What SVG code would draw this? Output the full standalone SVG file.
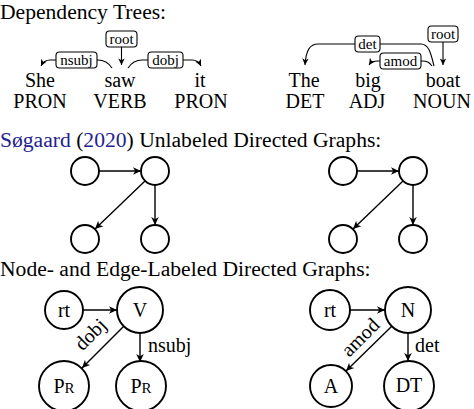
<svg xmlns="http://www.w3.org/2000/svg" width="474" height="409" viewBox="0 0 474 409">
<style>
text { font-family: "Liberation Serif", "Times New Roman", serif; fill: #000; }
.title { font-size: 21.6px; }
.cite { fill: #23238f; }
.w { font-size: 20px; text-anchor: middle; }
.lb { font-size: 15px; text-anchor: middle; }
.box { fill: #fff; stroke: #000; stroke-width: 1.1; }
.dep { fill: none; stroke: #000; stroke-width: 1.1; marker-end: url(#ah); }
.gc { fill: #fff; stroke: #000; stroke-width: 1.9; }
.ge { fill: none; stroke: #000; stroke-width: 1.4; marker-end: url(#ag); }
.nl { font-size: 20px; text-anchor: middle; }
.el { font-size: 20px; }
</style>
<defs>
<marker id="ah" markerUnits="userSpaceOnUse" viewBox="-8 -4 9 8" refX="0" refY="0" markerWidth="9" markerHeight="8" orient="auto">
<path d="M0,0 L-6.5,-3.2 L-4.8,0 L-6.5,3.2 Z" fill="#000"/>
</marker>
<marker id="ag" markerUnits="userSpaceOnUse" viewBox="-9 -5 10 10" refX="0" refY="0" markerWidth="10" markerHeight="10" orient="auto">
<path d="M0,0 L-8,-3.8 L-5.8,0 L-8,3.8 Z" fill="#000"/>
</marker>
</defs>

<text class="title" x="0" y="18.5">Dependency Trees:</text>
<text class="title" x="0" y="147"><tspan class="cite">Søgaard</tspan> (<tspan class="cite">2020</tspan>) Unlabeled Directed Graphs:</text>
<text class="title" x="0" y="276">Node- and Edge-Labeled Directed Graphs:</text>

<g id="connectors">
<!-- left dependency tree -->
<line class="dep" x1="121.5" y1="47" x2="121.5" y2="65"/>
<path class="dep" d="M112,68 C108,62 104,60 98,60 L50,60 C46,60 43,62 41,66"/>
<path class="dep" d="M128,68 C132,62 136,60 142,60 L192,60 C196,60 199,62 201,66"/>
<!-- right dependency tree -->
<line class="dep" x1="443" y1="42" x2="443" y2="65"/>
<path class="dep" d="M434,66 C431,54 429,44 421,44 L318,44 C310,44 306,50 305,65"/>
<path class="dep" d="M432,66 C429,62 427,61 422,61 L378,61 C374,61 371,62 369,65"/>
<!-- unlabeled graph left -->
<line class="ge" x1="99" y1="171" x2="141" y2="171"/>
<line class="ge" x1="155" y1="185" x2="155" y2="225"/>
<line class="ge" x1="145" y1="181" x2="95" y2="229"/>
<!-- unlabeled graph right -->
<line class="ge" x1="357" y1="171" x2="399" y2="171"/>
<line class="ge" x1="413" y1="185" x2="413" y2="225"/>
<line class="ge" x1="403" y1="181" x2="353" y2="229"/>
<!-- labeled graph left -->
<line class="ge" x1="83" y1="310" x2="117" y2="310"/>
<line class="ge" x1="140" y1="333" x2="140" y2="362"/>
<line class="ge" x1="124" y1="326" x2="82" y2="368"/>
<text class="el" x="148" y="352">nsubj</text>
<text class="el" transform="translate(95,339) rotate(-45)" text-anchor="middle">dobj</text>
<!-- labeled graph right -->
<line class="ge" x1="350" y1="310" x2="385" y2="310"/>
<line class="ge" x1="408" y1="333" x2="408" y2="361"/>
<line class="ge" x1="392" y1="326" x2="346" y2="371"/>
<text class="el" x="415" y="352">det</text>
<text class="el" transform="translate(365,342) rotate(-45)" text-anchor="middle">amod</text>
</g>

<!-- dependency labels -->
<g id="lab-root1"><rect class="box" x="106" y="31" width="31" height="16" rx="3.5"/><text class="lb" x="121.5" y="43.5">root</text></g>
<g id="lab-nsubj"><rect class="box" x="56" y="52" width="41" height="16" rx="3.5"/><text class="lb" x="76.5" y="64.5">nsubj</text></g>
<g id="lab-dobj"><rect class="box" x="148" y="52" width="35" height="16" rx="3.5"/><text class="lb" x="165.5" y="64.5">dobj</text></g>
<g id="lab-root2"><rect class="box" x="428" y="26" width="30" height="16" rx="3.5"/><text class="lb" x="443" y="38.5">root</text></g>
<g id="lab-det"><rect class="box" x="355" y="36" width="25" height="16" rx="3.5"/><text class="lb" x="367.5" y="48.5">det</text></g>
<g id="lab-amod"><rect class="box" x="380" y="53" width="41" height="16" rx="3.5"/><text class="lb" x="400.5" y="65.5">amod</text></g>

<!-- words -->
<g id="w-she"><text class="w" x="40" y="87">She</text><text class="w" x="40" y="108">PRON</text></g>
<g id="w-saw"><text class="w" x="120" y="87">saw</text><text class="w" x="120" y="108">VERB</text></g>
<g id="w-it"><text class="w" x="200" y="87">it</text><text class="w" x="201" y="108">PRON</text></g>
<g id="w-the"><text class="w" x="304" y="87">The</text><text class="w" x="305" y="108">DET</text></g>
<g id="w-big"><text class="w" x="368" y="87">big</text><text class="w" x="367" y="108">ADJ</text></g>
<g id="w-boat"><text class="w" x="443" y="87">boat</text><text class="w" x="442" y="108">NOUN</text></g>

<!-- unlabeled graphs -->
<g id="u1"><circle class="gc" cx="85" cy="171" r="14"/></g>
<g id="u2"><circle class="gc" cx="155" cy="171" r="14"/></g>
<g id="u3"><circle class="gc" cx="85" cy="239" r="14"/></g>
<g id="u4"><circle class="gc" cx="155" cy="239" r="14"/></g>
<g id="u5"><circle class="gc" cx="343" cy="171" r="14"/></g>
<g id="u6"><circle class="gc" cx="413" cy="171" r="14"/></g>
<g id="u7"><circle class="gc" cx="343" cy="239" r="14"/></g>
<g id="u8"><circle class="gc" cx="413" cy="239" r="14"/></g>

<!-- labeled graphs -->
<g id="n-rt1"><circle class="gc" cx="64" cy="310" r="19"/><text class="nl" x="64" y="317">rt</text></g>
<g id="n-v"><circle class="gc" cx="140" cy="310" r="23"/><text class="nl" x="140" y="317">V</text></g>
<g id="n-pr1"><circle class="gc" cx="64" cy="386" r="25"/><text class="nl" x="64" y="393">P<tspan font-size="15">R</tspan></text></g>
<g id="n-pr2"><circle class="gc" cx="141" cy="386" r="25"/><text class="nl" x="141" y="393">P<tspan font-size="15">R</tspan></text></g>
<g id="n-rt2"><circle class="gc" cx="330" cy="310" r="20"/><text class="nl" x="330" y="317">rt</text></g>
<g id="n-n"><circle class="gc" cx="408" cy="310" r="23"/><text class="nl" x="408" y="317">N</text></g>
<g id="n-a"><circle class="gc" cx="331" cy="386" r="21"/><text class="nl" x="331" y="393">A</text></g>
<g id="n-dt"><circle class="gc" cx="409" cy="386" r="25"/><text class="nl" x="409" y="392" font-size="15">DT</text></g>
</svg>
